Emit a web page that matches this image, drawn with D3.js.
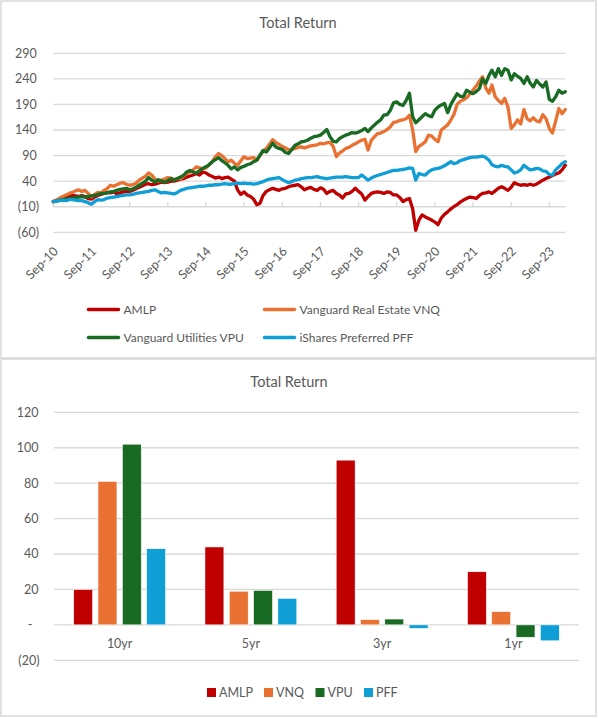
<!DOCTYPE html>
<html>
<head>
<meta charset="utf-8">
<script src="https://cdn.jsdelivr.net/npm/d3@7"></script>
<style>
  body { margin: 0; background: #fff; }
  text { font-family: Lato, "Open Sans", sans-serif; fill: #595959; }
</style>
</head>
<body>
<div class="demo"></div>
<script>
// ---- data: monthly total return, Sep-10 .. Feb-24 ----
var startMonth = new Date(2010, 8, 1);

var amlp = [
  0, 2, 4, 7, 9, 11, 12, 11, 10, 12, 10, 6,
  5, 9, 12, 14, 16, 18, 17, 19, 15, 17, 19, 20,
  20, 22, 25, 28, 31, 34, 35, 33, 34, 36, 38, 37,
  38, 40, 40, 42, 44, 45, 48, 50, 52, 55, 52, 58,
  56, 52, 49, 46, 48, 45, 47, 48, 44, 40, 23, 14,
  19, 13, 10, 5, -6, -3, 12, 20, 23, 26, 24, 22,
  25, 26, 29, 31, 32, 33, 29, 23, 26, 28, 24, 22,
  27, 24, 16, 20, 22, 16, 13, 7, 15, 16, 20, 26,
  20, 15, 3, 10, 16, 18, 19, 18, 16, 19, 18, 13,
  13, 8, 0, 4, 6, -14, -56, -36, -26, -30, -33, -36,
  -40, -45, -32, -25, -20, -14, -10, -6, -1, 3, 6, 9,
  8, 6, 12, 16, 17, 19, 16, 21, 26, 29, 26, 22,
  28, 37, 34, 32, 33, 32, 34, 32, 34, 38, 42, 45,
  48, 51, 54, 56, 62, 71
];

var vnq = [
  0, 3, 7, 10, 13, 16, 18, 21, 23, 20, 22, 16,
  9, 14, 18, 17, 22, 26, 32, 30, 33, 36, 37, 34,
  32, 33, 36, 42, 46, 50, 56, 52, 44, 40, 42, 44,
  47, 46, 43, 45, 45, 50, 55, 58, 62, 68, 66, 64,
  66, 72, 78, 88, 94, 90, 84, 78, 81, 75, 71, 80,
  88, 84, 85, 86, 81, 90, 98, 104, 112, 121, 116, 112,
  108, 105, 101, 102, 104, 106, 107, 105, 107, 109, 110, 111,
  114, 113, 115, 116, 108, 88, 95, 99, 104, 106, 110, 113,
  117, 120, 122, 101, 120, 127, 133, 134, 137, 141, 146, 155,
  156, 159, 160, 162, 169, 140, 98, 108, 112, 117, 130, 128,
  122, 117, 140, 145, 150, 160, 170, 190, 196, 199, 203, 210,
  218, 226, 236, 244, 222, 212, 228, 205, 198, 192, 202, 185,
  143, 150, 160, 152, 180, 162, 158, 164, 158, 156, 170, 162,
  143, 134, 158, 182, 172, 180
];

var vpu = [
  0, 1, 3, 4, 5, 6, 7, 8, 9, 10, 9, 10,
  11, 12, 14, 16, 16, 17, 19, 20, 22, 24, 25, 26,
  23, 25, 28, 32, 36, 40, 47, 42, 38, 43, 40, 38,
  41, 45, 42, 45, 48, 52, 58, 61, 58, 56, 60, 65,
  68, 72, 78, 82, 86, 80, 76, 71, 64, 68, 62, 67,
  69, 72, 74, 78, 81, 91, 100, 97, 105, 114, 107, 104,
  102, 96, 94, 102, 110, 113, 117, 118, 120, 124, 127, 128,
  130, 135, 141, 127, 118, 117, 123, 127, 130, 132, 135, 134,
  136, 139, 143, 137, 144, 150, 155, 160, 169, 170, 178, 193,
  195, 190, 188, 198, 212, 166, 154, 160, 166, 172, 168, 166,
  179, 185, 189, 192, 174, 190, 200, 211, 206, 205, 218, 214,
  211, 215, 221, 240, 231, 247, 257, 244, 260, 247, 260, 257,
  238, 250, 245, 241, 231, 244, 232, 224, 237, 230, 224, 234,
  200, 196, 205, 218, 212, 215
];

var pff = [
  0, 1, 2, 3, 2, 4, 4, 3, 2, 2, 0, -2,
  -5, 0, 4, 3, 4, 7, 8, 9, 10, 11, 12, 13,
  13, 14, 16, 17, 18, 19, 20, 22, 23, 20, 17, 18,
  17, 16, 15, 18, 22, 24, 26, 27, 28, 29, 30, 30,
  31, 32, 32, 33, 33, 34, 35, 34, 34, 35, 36, 35,
  36, 35, 35, 34, 35, 37, 39, 42, 44, 45, 46, 47,
  43, 40, 37, 39, 42, 43, 45, 46, 47, 47, 48, 49,
  47, 46, 45, 46, 47, 48, 48, 48, 49, 48, 47, 47,
  47, 52, 47, 42, 46, 49, 51, 53, 55, 57, 59, 61,
  61, 62, 63, 64, 66, 65, 42, 55, 53, 52, 58, 62,
  64, 65, 67, 70, 74, 78, 74, 76, 80, 82, 84, 86,
  87, 87, 88, 89, 86, 81, 72, 69, 68, 71, 69, 68,
  62, 56, 58, 62, 71, 66, 62, 63, 65, 64, 60, 59,
  53, 52, 62, 68, 74, 78
];

var lineNames = ["AMLP", "Vanguard Real Estate VNQ", "Vanguard Utilities VPU", "iShares Preferred PFF"];
var lineTicks = [-60, -10, 40, 90, 140, 190, 240, 290];

// ---- data: period returns ----
var periods = ["10yr", "5yr", "3yr", "1yr"];
var barNames = ["AMLP", "VNQ", "VPU", "PFF"];
var amlpBars = [20, 44, 93, 30];
var vnqBars = [81, 19, 3, 7.5];
var vpuBars = [102, 19.5, 3.3, -7];
var pffBars = [43, 15, -2, -9];
var barTicks = [-20, 0, 20, 40, 60, 80, 100, 120];

var colors = ["#C00000", "#E97132", "#196B24", "#0F9ED5"];
var gridColor = "#d9d9d9";

(function() {

    function fmt(v) {
        if (v === 0) return "-";
        return v < 0 ? "(" + (-v) + ")" : String(v);
    }

    var svg = d3.select(".demo").append("svg")
        .attr("width", 598)
        .attr("height", 718);

    // panel frames
    svg.append("rect").attr("x", 1).attr("y", 1).attr("width", 595).attr("height", 357)
        .attr("fill", "#fff").attr("stroke", gridColor).attr("stroke-width", 1.5);
    svg.append("rect").attr("x", 1).attr("y", 359).attr("width", 595).attr("height", 357)
        .attr("fill", "#fff").attr("stroke", gridColor).attr("stroke-width", 1.5);

    // ================= top: line chart =================
    var dates = amlp.map(function(d, i) { return d3.timeMonth.offset(startMonth, i); });

    var x = d3.scaleTime()
        .domain([dates[0], dates[dates.length - 1]])
        .range([53.3, 565.3]);

    var y = d3.scaleLinear()
        .domain([-60, 290])
        .range([232.3, 53.3]);

    var lineChart = svg.append("g");

    lineChart.append("text")
        .attr("x", 298).attr("y", 28)
        .attr("text-anchor", "middle")
        .style("font-size", "14.5px")
        .text("Total Return");

    // gridlines (the -10 line is the category axis)
    lineChart.selectAll("line.grid")
        .data(lineTicks.filter(function(d) { return d !== -10; }))
        .enter().append("line")
        .attr("class", "grid")
        .attr("x1", x.range()[0]).attr("x2", x.range()[1])
        .attr("y1", function(d) { return y(d); })
        .attr("y2", function(d) { return y(d); })
        .attr("stroke", gridColor).attr("stroke-width", 1.3);

    lineChart.selectAll("text.ytick")
        .data(lineTicks)
        .enter().append("text")
        .attr("class", "ytick")
        .attr("x", function(d) { return d < 0 ? 39 : 36.7; })
        .attr("y", function(d) { return y(d); })
        .attr("dy", "0.35em")
        .attr("text-anchor", "end")
        .style("font-size", "12.5px")
        .text(fmt);

    // category axis at -10 with inside ticks
    var yearTicks = d3.range(2010, 2024).map(function(yr) { return new Date(yr, 8, 1); });
    lineChart.append("line")
        .attr("x1", x.range()[0]).attr("x2", x.range()[1])
        .attr("y1", y(-10)).attr("y2", y(-10))
        .attr("stroke", gridColor).attr("stroke-width", 1.5);
    lineChart.selectAll("line.xtick")
        .data(yearTicks)
        .enter().append("line")
        .attr("class", "xtick")
        .attr("x1", function(d) { return x(d); })
        .attr("x2", function(d) { return x(d); })
        .attr("y1", y(-10)).attr("y2", y(-10) - 5)
        .attr("stroke", gridColor).attr("stroke-width", 1.3);

    lineChart.selectAll("text.xlab")
        .data(yearTicks)
        .enter().append("text")
        .attr("class", "xlab")
        .attr("transform", function(d) { return "translate(" + (x(d) + 2.5) + ",249) rotate(-45)"; })
        .attr("dy", "0.35em")
        .attr("text-anchor", "end")
        .style("font-size", "12.5px")
        .text(d3.timeFormat("%b-%y"));

    var line = d3.line()
        .x(function(d, i) { return x(dates[i]); })
        .y(function(d) { return y(d); });

    lineChart.selectAll("path.series")
        .data([amlp, vnq, vpu, pff])
        .enter().append("path")
        .attr("class", "series")
        .attr("d", line)
        .attr("fill", "none")
        .attr("stroke", function(d, i) { return colors[i]; })
        .attr("stroke-width", 3.3)
        .attr("stroke-linejoin", "round")
        .attr("stroke-linecap", "round");

    // legend
    var lineLegend = lineChart.selectAll("g.lleg")
        .data(lineNames)
        .enter().append("g")
        .attr("class", "lleg")
        .attr("transform", function(d, i) {
            return "translate(" + (i % 2 ? 264.5 : 88.5) + "," + (i < 2 ? 309.5 : 337.5) + ")";
        });
    lineLegend.append("line")
        .attr("x1", 0).attr("x2", 30)
        .attr("stroke", function(d, i) { return colors[i]; })
        .attr("stroke-width", 3.5)
        .attr("stroke-linecap", "round");
    lineLegend.append("text")
        .attr("x", 35).attr("dy", "0.35em")
        .style("font-size", "12px")
        .text(function(d) { return d; });

    // ================= bottom: bar chart =================
    var barSeries = [amlpBars, vnqBars, vpuBars, pffBars];

    var x0 = d3.scaleBand()
        .domain(periods)
        .range([54, 579])
        .paddingInner(0.3)
        .paddingOuter(0.15);

    var x1 = d3.scaleBand()
        .domain(barNames)
        .range([0, x0.bandwidth()])
        .paddingInner(0.22);

    var yb = d3.scaleLinear()
        .domain([-20, 120])
        .range([660.3, 412.3]);

    var barChart = svg.append("g");

    barChart.append("text")
        .attr("x", 289).attr("y", 387)
        .attr("text-anchor", "middle")
        .style("font-size", "14.5px")
        .text("Total Return");

    barChart.selectAll("line.grid")
        .data(barTicks)
        .enter().append("line")
        .attr("class", "grid")
        .attr("x1", 54).attr("x2", 579)
        .attr("y1", function(d) { return yb(d); })
        .attr("y2", function(d) { return yb(d); })
        .attr("stroke", gridColor).attr("stroke-width", 1.3);

    barChart.selectAll("text.ytick")
        .data(barTicks)
        .enter().append("text")
        .attr("class", "ytick")
        .attr("x", function(d) { return d === 0 ? 32.5 : d < 0 ? 39.5 : 38.5; })
        .attr("y", function(d) { return yb(d); })
        .attr("dy", "0.35em")
        .attr("text-anchor", "end")
        .style("font-size", "12.5px")
        .text(fmt);

    var groups = barChart.selectAll("g.period")
        .data(periods)
        .enter().append("g")
        .attr("class", "period")
        .attr("transform", function(d) { return "translate(" + x0(d) + ",0)"; });

    groups.selectAll("rect")
        .data(function(p, pi) {
            return barNames.map(function(n, si) { return { name: n, i: si, value: barSeries[si][pi] }; });
        })
        .enter().append("rect")
        .attr("x", function(d) { return x1(d.name); })
        .attr("width", x1.bandwidth())
        .attr("y", function(d) { return yb(Math.max(0, d.value)); })
        .attr("height", function(d) { return Math.abs(yb(d.value) - yb(0)); })
        .attr("fill", function(d) { return colors[d.i]; })
        .attr("stroke", "#fff")
        .attr("stroke-width", 0.6);

    barChart.selectAll("text.cat")
        .data(periods)
        .enter().append("text")
        .attr("class", "cat")
        .attr("x", function(d) { return x0(d) + x0.bandwidth() / 2; })
        .attr("y", 648)
        .attr("text-anchor", "middle")
        .style("font-size", "12.5px")
        .text(function(d) { return d; });

    // legend
    var legX = [207, 264, 315.5, 364];
    var barLegend = barChart.selectAll("g.bleg")
        .data(barNames)
        .enter().append("g")
        .attr("class", "bleg")
        .attr("transform", function(d, i) { return "translate(" + legX[i] + ",692.5)"; });
    barLegend.append("rect")
        .attr("x", 0).attr("y", -4.5)
        .attr("width", 9).attr("height", 9)
        .attr("fill", function(d, i) { return colors[i]; });
    barLegend.append("text")
        .attr("x", 12).attr("dy", "0.35em")
        .style("font-size", "12.5px")
        .text(function(d) { return d; });

})();
</script>
</body>
</html>
